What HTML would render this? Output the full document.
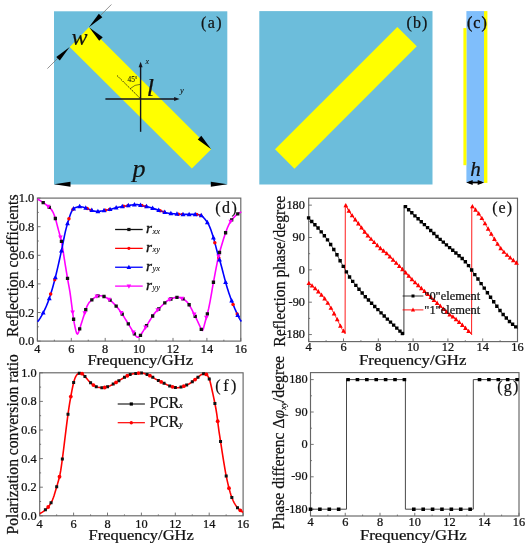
<!DOCTYPE html>
<html><head><meta charset="utf-8"><title>Figure</title>
<style>
html,body{margin:0;padding:0;background:#fff;}
svg{display:block;font-family:"Liberation Serif",serif;filter:blur(0.3px);}
text{stroke:#111;stroke-width:0.24px;}
.pl{stroke-width:0.22px;}
.sm{stroke-width:0.08px;}
.pc{stroke-width:0.4px;}
</style></head><body>
<svg width="529" height="550" viewBox="0 0 529 550">
<rect width="529" height="550" fill="#fff"/>
<rect x="54" y="11.3" width="173.3" height="173.2" fill="#6cbddb"/>
<polygon points="88.9,27.2 211.2,149.3 191.9,168.6 69.7,47" fill="#ffff00"/>
<path d="M47.4 68.6L58 58M100.5 15.4L111.4 4.5" stroke="#777" stroke-width="0.8" fill="none"/>
<polygon points="69.7,47 59.8,60.44 56.26,56.9" fill="#000"/>
<polygon points="88.9,27.2 98.8,13.76 102.34,17.3" fill="#000"/>
<polygon points="89.3,27.4 102.74,37.3 99.2,40.84" fill="#000"/>
<polygon points="211.2,149.3 197.76,139.4 201.3,135.86" fill="#000"/>
<polygon points="54,184.2 70.5,181.7 70.5,186.7" fill="#000"/>
<polygon points="227.3,184.2 210.8,186.7 210.8,181.7" fill="#000"/>
<line x1="105.4" y1="99" x2="176" y2="99" stroke="#15151f" stroke-width="1.4"/>
<line x1="140.6" y1="131.8" x2="140.6" y2="66" stroke="#15151f" stroke-width="1.4"/>
<polygon points="179.6,99 174.1,101 174.1,97" fill="#15151f"/>
<polygon points="140.6,61.8 142.6,67.3 138.6,67.3" fill="#15151f"/>
<line x1="117" y1="75.5" x2="140.5" y2="98.7" stroke="#1a1a1a" stroke-width="0.9" stroke-dasharray="1.7 0.9"/>
<path d="M130.35 88.55 A14.5 14.5 0 0 1 140.6 84.3" fill="none" stroke="#222" stroke-width="0.6"/>
<text x="127.6" y="82.4" font-size="7.4" fill="#111" class="sm">45</text>
<text x="134.9" y="80.6" font-size="5.5" fill="#111" class="sm">°</text>
<text x="145.6" y="63.5" font-size="8" font-style="italic" fill="#111" class="sm">x</text>
<text x="180" y="92.8" font-size="8.5" font-style="italic" fill="#111" class="sm">y</text>
<text x="146.8" y="96.2" font-size="26" font-style="italic" fill="#111" stroke="#111" stroke-width="0.35">l</text>
<text x="71.6" y="44.9" font-size="24" font-style="italic" fill="#111" stroke="#111" stroke-width="0.35">w</text>
<text x="132.6" y="177.3" font-size="26" font-style="italic" fill="#111" stroke="#111" stroke-width="0.35">p</text>
<text x="201" y="27.5" font-size="16" textLength="20.7" lengthAdjust="spacing" fill="#111" class="pl">(a)</text>
<rect x="259.3" y="11.1" width="173.2" height="173.4" fill="#6cbddb"/>
<polygon points="416.79,46.36 397.34,26.91 275.01,149.24 294.46,168.69" fill="#ffff00"/>
<text x="406.6" y="27.5" font-size="16" textLength="20.8" lengthAdjust="spacing" fill="#111" class="pl">(b)</text>
<rect x="466.4" y="11.1" width="17.6" height="171.2" fill="#7fbefb"/>
<rect x="484" y="11.1" width="3.4" height="171.8" fill="#ffff00"/>
<rect x="463.4" y="28.1" width="3" height="137.1" fill="#ffff00"/>
<text x="467" y="27.5" font-size="16" textLength="19.8" lengthAdjust="spacing" fill="#111" class="pc">(c)</text>
<text x="470.2" y="176.3" font-size="21" font-style="italic" fill="#111" stroke="#111" stroke-width="0.35">h</text>
<line x1="469" y1="182.5" x2="481.4" y2="182.5" stroke="#000" stroke-width="1.7"/>
<polygon points="466.2,182.5 472.7,179.9 472.7,185.1" fill="#000"/>
<polygon points="484.2,182.5 477.7,185.1 477.7,179.9" fill="#000"/>
<rect x="37.4" y="198.1" width="203.4" height="143" fill="none" stroke="#666" stroke-width="1.15"/>
<path d="M37.4 341.1v-3.2M71.3 341.1v-3.2M105.2 341.1v-3.2M139.1 341.1v-3.2M173 341.1v-3.2M206.9 341.1v-3.2M240.8 341.1v-3.2M54.35 341.1v-1.4M88.25 341.1v-1.4M122.15 341.1v-1.4M156.05 341.1v-1.4M189.95 341.1v-1.4M223.85 341.1v-1.4M37.4 341.1h3.2M37.4 312.5h3.2M37.4 283.9h3.2M37.4 255.3h3.2M37.4 226.7h3.2M37.4 198.1h3.2M37.4 326.8h1.4M37.4 298.2h1.4M37.4 269.6h1.4M37.4 241h1.4M37.4 212.4h1.4" stroke="#666" stroke-width="0.9" fill="none"/>
<path d="M37.6 199.1 L38.35 199.52 L39.1 199.97 L39.85 200.43 L40.6 200.91 L41.35 201.39 L42.1 201.88 L42.85 202.37 L43.6 202.86 L44.35 203.38 L45.1 203.93 L45.85 204.51 L46.6 205.11 L47.35 205.72 L48.1 206.35 L48.85 207 L49.6 207.66 L50.35 208.39 L51.1 209.25 L51.85 210.27 L52.6 211.5 L53.35 212.98 L54.1 214.75 L54.85 216.87 L55.6 219.35 L56.35 222.08 L57.1 224.9 L57.85 227.76 L58.6 230.59 L59.35 233.26 L60.1 235.95 L60.85 238.87 L61.6 242.21 L62.35 246.22 L63.1 250.85 L63.85 255.79 L64.6 260.7 L65.35 265.32 L66.1 269.87 L66.85 274.39 L67.6 278.9 L68.35 283.15 L69.1 287.11 L69.85 291.42 L70.6 296.56 L71.35 302.28 L72.1 308.22 L72.85 314.01 L73.6 319.26 L74.35 323.66 L75.1 327.31 L75.85 330.55 L76.6 333.15 L77.35 334.09 L78.1 333.26 L78.85 331.35 L79.6 329.04 L80.35 326.71 L81.1 324.36 L81.85 322 L82.6 319.63 L83.35 317.26 L84.1 314.9 L84.85 312.55 L85.6 310.23 L86.35 307.98 L87.1 306.09 L87.85 304.57 L88.6 303.34 L89.35 302.35 L90.1 301.51 L90.85 300.79 L91.6 300.09 L92.35 299.4 L93.1 298.75 L93.85 298.13 L94.6 297.57 L95.35 297.07 L96.1 296.64 L96.85 296.29 L97.6 296.04 L98.35 295.89 L99.1 295.81 L99.85 295.77 L100.6 295.76 L101.35 295.81 L102.1 295.92 L102.85 296.09 L103.6 296.32 L104.35 296.63 L105.1 297 L105.85 297.39 L106.6 297.82 L107.35 298.27 L108.1 298.75 L108.85 299.27 L109.6 299.83 L110.35 300.42 L111.1 301.06 L111.85 301.71 L112.6 302.39 L113.35 303.09 L114.1 303.83 L114.85 304.59 L115.6 305.4 L116.35 306.26 L117.1 307.17 L117.85 308.1 L118.6 309.05 L119.35 310.03 L120.1 311.05 L120.85 312.09 L121.6 313.18 L122.35 314.3 L123.1 315.47 L123.85 316.66 L124.6 317.85 L125.35 319.05 L126.1 320.25 L126.85 321.46 L127.6 322.67 L128.35 323.89 L129.1 325.1 L129.85 326.33 L130.6 327.57 L131.35 328.83 L132.1 330.09 L132.85 331.35 L133.6 332.61 L134.35 333.85 L135.1 335.03 L135.85 336.01 L136.6 336.74 L137.35 337.18 L138.1 337.29 L138.85 337.03 L139.6 336.44 L140.35 335.56 L141.1 334.44 L141.85 333.24 L142.6 332.04 L143.35 330.83 L144.1 329.63 L144.85 328.42 L145.6 327.22 L146.35 326.02 L147.1 324.82 L147.85 323.62 L148.6 322.42 L149.35 321.21 L150.1 320 L150.85 318.8 L151.6 317.62 L152.35 316.45 L153.1 315.3 L153.85 314.21 L154.6 313.24 L155.35 312.36 L156.1 311.55 L156.85 310.8 L157.6 310.07 L158.35 309.35 L159.1 308.61 L159.85 307.83 L160.6 307.05 L161.35 306.27 L162.1 305.5 L162.85 304.74 L163.6 304 L164.35 303.27 L165.1 302.57 L165.85 301.89 L166.6 301.3 L167.35 300.78 L168.1 300.32 L168.85 299.92 L169.6 299.55 L170.35 299.22 L171.1 298.9 L171.85 298.58 L172.6 298.28 L173.35 298.03 L174.1 297.81 L174.85 297.64 L175.6 297.49 L176.35 297.39 L177.1 297.31 L177.85 297.29 L178.6 297.34 L179.35 297.46 L180.1 297.65 L180.85 297.91 L181.6 298.21 L182.35 298.57 L183.1 298.97 L183.85 299.41 L184.6 299.89 L185.35 300.44 L186.1 301.07 L186.85 301.79 L187.6 302.63 L188.35 303.61 L189.1 304.73 L189.85 306.01 L190.6 307.34 L191.35 308.71 L192.1 310.12 L192.85 311.56 L193.6 313.03 L194.35 314.53 L195.1 316.07 L195.85 317.63 L196.6 319.2 L197.35 320.78 L198.1 322.37 L198.85 323.97 L199.6 325.59 L200.35 327.29 L201.1 328.98 L201.85 330.35 L202.6 330.56 L203.35 328.68 L204.1 325.85 L204.85 323.01 L205.6 320.25 L206.35 317.53 L207.1 314.77 L207.85 311.9 L208.6 308.77 L209.35 305.2 L210.1 301.28 L210.85 297.12 L211.6 292.81 L212.35 288.45 L213.1 284.16 L213.85 280.02 L214.6 276.07 L215.35 272.12 L216.1 268.19 L216.85 264.32 L217.6 260.58 L218.35 257.01 L219.1 253.98 L219.85 251.36 L220.6 248.81 L221.35 246.26 L222.1 243.73 L222.85 241.25 L223.6 238.82 L224.35 236.47 L225.1 234.2 L225.85 232.03 L226.6 229.96 L227.35 228.05 L228.1 226.29 L228.85 224.69 L229.6 223.23 L230.35 221.91 L231.1 220.73 L231.85 219.69 L232.6 218.76 L233.35 217.91 L234.1 217.09 L234.85 216.33 L235.6 215.61 L236.35 214.94 L237.1 214.34 L237.85 213.79 L238.6 213.3 L239.35 212.86 L240.1 212.47 L240.85 212.16 L241.4 212" fill="none" stroke="#f0f" stroke-width="1.6" stroke-linejoin="round"/>
<path d="M37.6 321.8 L38.35 320.84 L39.1 319.79 L39.85 318.66 L40.6 317.46 L41.35 316.19 L42.1 314.85 L42.85 313.47 L43.6 312.02 L44.35 310.51 L45.1 308.92 L45.85 307.25 L46.6 305.49 L47.35 303.63 L48.1 301.67 L48.85 299.6 L49.6 297.43 L50.35 295.15 L51.1 292.79 L51.85 290.32 L52.6 287.75 L53.35 285.08 L54.1 282.3 L54.85 279.4 L55.6 276.39 L56.35 273.3 L57.1 270.16 L57.85 266.94 L58.6 263.65 L59.35 260.28 L60.1 256.87 L60.85 253.43 L61.6 249.96 L62.35 246.37 L63.1 242.57 L63.85 238.74 L64.6 235.05 L65.35 231.67 L66.1 228.65 L66.85 225.9 L67.6 223.29 L68.35 220.73 L69.1 218.23 L69.85 215.92 L70.6 213.84 L71.35 212.05 L72.1 210.57 L72.85 209.43 L73.6 208.67 L74.35 208.19 L75.1 207.79 L75.85 207.46 L76.6 207.21 L77.35 207.01 L78.1 206.81 L78.85 206.65 L79.6 206.58 L80.35 206.64 L81.1 206.76 L81.85 206.91 L82.6 207.08 L83.35 207.28 L84.1 207.49 L84.85 207.72 L85.6 207.97 L86.35 208.22 L87.1 208.5 L87.85 208.8 L88.6 209.11 L89.35 209.42 L90.1 209.72 L90.85 210.01 L91.6 210.27 L92.35 210.5 L93.1 210.72 L93.85 210.92 L94.6 211.1 L95.35 211.24 L96.1 211.35 L96.85 211.41 L97.6 211.43 L98.35 211.4 L99.1 211.33 L99.85 211.25 L100.6 211.15 L101.35 211.05 L102.1 210.93 L102.85 210.81 L103.6 210.67 L104.35 210.53 L105.1 210.38 L105.85 210.24 L106.6 210.09 L107.35 209.94 L108.1 209.79 L108.85 209.63 L109.6 209.47 L110.35 209.3 L111.1 209.13 L111.85 208.92 L112.6 208.69 L113.35 208.45 L114.1 208.21 L114.85 207.98 L115.6 207.77 L116.35 207.59 L117.1 207.45 L117.85 207.32 L118.6 207.19 L119.35 207.07 L120.1 206.95 L120.85 206.83 L121.6 206.7 L122.35 206.58 L123.1 206.45 L123.85 206.32 L124.6 206.19 L125.35 206.06 L126.1 205.92 L126.85 205.79 L127.6 205.66 L128.35 205.53 L129.1 205.4 L129.85 205.28 L130.6 205.16 L131.35 205.06 L132.1 204.97 L132.85 204.88 L133.6 204.79 L134.35 204.72 L135.1 204.64 L135.85 204.59 L136.6 204.58 L137.35 204.61 L138.1 204.7 L138.85 204.86 L139.6 205.03 L140.35 205.21 L141.1 205.4 L141.85 205.58 L142.6 205.76 L143.35 205.93 L144.1 206.1 L144.85 206.26 L145.6 206.41 L146.35 206.56 L147.1 206.71 L147.85 206.86 L148.6 207.03 L149.35 207.21 L150.1 207.41 L150.85 207.62 L151.6 207.87 L152.35 208.12 L153.1 208.37 L153.85 208.62 L154.6 208.87 L155.35 209.12 L156.1 209.37 L156.85 209.62 L157.6 209.87 L158.35 210.12 L159.1 210.37 L159.85 210.62 L160.6 210.87 L161.35 211.12 L162.1 211.37 L162.85 211.62 L163.6 211.87 L164.35 212.12 L165.1 212.37 L165.85 212.61 L166.6 212.81 L167.35 212.97 L168.1 213.09 L168.85 213.19 L169.6 213.27 L170.35 213.35 L171.1 213.42 L171.85 213.51 L172.6 213.6 L173.35 213.69 L174.1 213.78 L174.85 213.86 L175.6 213.94 L176.35 214.02 L177.1 214.08 L177.85 214.14 L178.6 214.2 L179.35 214.25 L180.1 214.29 L180.85 214.33 L181.6 214.36 L182.35 214.39 L183.1 214.4 L183.85 214.4 L184.6 214.4 L185.35 214.4 L186.1 214.4 L186.85 214.4 L187.6 214.4 L188.35 214.4 L189.1 214.4 L189.85 214.4 L190.6 214.4 L191.35 214.4 L192.1 214.4 L192.85 214.4 L193.6 214.4 L194.35 214.4 L195.1 214.4 L195.85 214.41 L196.6 214.46 L197.35 214.54 L198.1 214.66 L198.85 214.78 L199.6 214.92 L200.35 215.15 L201.1 215.48 L201.85 215.93 L202.6 216.55 L203.35 217.33 L204.1 218.18 L204.85 219.06 L205.6 219.95 L206.35 220.92 L207.1 221.99 L207.85 223.17 L208.6 224.52 L209.35 226.08 L210.1 227.85 L210.85 229.81 L211.6 231.93 L212.35 234.21 L213.1 236.61 L213.85 239.14 L214.6 241.79 L215.35 244.64 L216.1 247.59 L216.85 250.53 L217.6 253.37 L218.35 256.01 L219.1 258.41 L219.85 260.77 L220.6 263.3 L221.35 266.01 L222.1 268.83 L222.85 271.71 L223.6 274.61 L224.35 277.5 L225.1 280.34 L225.85 283.07 L226.6 285.68 L227.35 288.18 L228.1 290.57 L228.85 292.88 L229.6 295.1 L230.35 297.24 L231.1 299.3 L231.85 301.28 L232.6 303.21 L233.35 305.08 L234.1 306.91 L234.85 308.69 L235.6 310.42 L236.35 312.11 L237.1 313.75 L237.85 315.35 L238.6 316.9 L239.35 318.34 L240.1 319.61 L240.85 320.75 L241.4 321.5" fill="none" stroke="#00f" stroke-width="1.6" stroke-linejoin="round"/>
<circle cx="50.68" cy="294.12" r="1.75" fill="#f00"/>
<circle cx="68.92" cy="218.82" r="1.75" fill="#f00"/>
<circle cx="87.16" cy="208.53" r="1.75" fill="#f00"/>
<circle cx="105.4" cy="210.33" r="1.75" fill="#f00"/>
<circle cx="123.64" cy="206.35" r="1.75" fill="#f00"/>
<circle cx="141.88" cy="205.59" r="1.75" fill="#f00"/>
<circle cx="160.12" cy="210.71" r="1.75" fill="#f00"/>
<circle cx="178.36" cy="214.18" r="1.75" fill="#f00"/>
<circle cx="196.6" cy="214.46" r="1.75" fill="#f00"/>
<circle cx="214.84" cy="242.69" r="1.75" fill="#f00"/>
<circle cx="233.08" cy="304.41" r="1.75" fill="#f00"/>
<circle cx="54.76" cy="279.76" r="1.65" fill="#f00"/>
<circle cx="73" cy="209.25" r="1.65" fill="#f00"/>
<circle cx="91.24" cy="210.15" r="1.65" fill="#f00"/>
<circle cx="109.48" cy="209.5" r="1.65" fill="#f00"/>
<circle cx="127.72" cy="205.64" r="1.65" fill="#f00"/>
<circle cx="145.96" cy="206.48" r="1.65" fill="#f00"/>
<circle cx="164.2" cy="212.07" r="1.65" fill="#f00"/>
<circle cx="182.44" cy="214.39" r="1.65" fill="#f00"/>
<circle cx="200.68" cy="215.28" r="1.65" fill="#f00"/>
<circle cx="218.92" cy="257.84" r="1.65" fill="#f00"/>
<circle cx="237.16" cy="313.88" r="1.65" fill="#f00"/>
<path d="M43.2 310.07L45.62 314.56L40.78 314.56zM49.28 295.64L51.7 300.13L46.86 300.13zM55.36 274.64L57.78 279.13L52.94 279.13zM61.44 247.98L63.86 252.47L59.02 252.47zM67.52 220.84L69.94 225.32L65.1 225.32zM73.6 205.94L76.02 210.43L71.18 210.43zM79.68 203.85L82.1 208.34L77.26 208.34zM85.76 205.29L88.18 209.78L83.34 209.78zM91.84 207.62L94.26 212.1L89.42 212.1zM97.92 208.69L100.34 213.18L95.5 213.18zM104 207.87L106.42 212.36L101.58 212.36zM110.08 206.64L112.5 211.12L107.66 211.12zM116.16 204.9L118.58 209.39L113.74 209.39zM122.24 203.87L124.66 208.36L119.82 208.36zM128.32 202.81L130.74 207.3L125.9 207.3zM134.4 201.98L136.82 206.47L131.98 206.47zM140.48 202.52L142.9 207.01L138.06 207.01zM146.56 203.87L148.98 208.36L144.14 208.36zM152.64 205.49L155.06 209.97L150.22 209.97zM158.72 207.51L161.14 212L156.3 212zM164.8 209.54L167.22 214.03L162.38 214.03zM170.88 210.67L173.3 215.16L168.46 215.16zM176.96 211.34L179.38 215.83L174.54 215.83zM183.04 211.67L185.46 216.16L180.62 216.16zM189.12 211.67L191.54 216.16L186.7 216.16zM195.2 211.67L197.62 216.16L192.78 216.16zM201.28 212.85L203.7 217.34L198.86 217.34zM207.36 219.66L209.78 224.14L204.94 224.14zM213.44 235.02L215.86 239.5L211.02 239.5zM219.52 256.99L221.94 261.48L217.1 261.48zM225.6 279.45L228.02 283.93L223.18 283.93zM231.68 298.11L234.1 302.6L229.26 302.6zM237.76 312.43L240.18 316.92L235.34 316.92z" fill="#00f"/>
<path d="M41.55 200.95h3.3v3.3h-3.3zM47.63 205.72h3.3v3.3h-3.3zM53.71 216.86h3.3v3.3h-3.3zM59.79 239.8h3.3v3.3h-3.3zM65.87 276.77h3.3v3.3h-3.3zM71.95 317.61h3.3v3.3h-3.3zM78.03 327.14h3.3v3.3h-3.3zM84.11 308.09h3.3v3.3h-3.3zM90.19 298.22h3.3v3.3h-3.3zM96.27 294.32h3.3v3.3h-3.3zM102.35 294.83h3.3v3.3h-3.3zM108.43 298.55h3.3v3.3h-3.3zM114.51 304.39h3.3v3.3h-3.3zM120.59 312.48h3.3v3.3h-3.3zM126.67 322.19h3.3v3.3h-3.3zM132.75 332.29h3.3v3.3h-3.3zM138.83 333.73h3.3v3.3h-3.3zM144.91 324.03h3.3v3.3h-3.3zM150.99 314.35h3.3v3.3h-3.3zM157.07 307.34h3.3v3.3h-3.3zM163.15 301.19h3.3v3.3h-3.3zM169.23 297.34h3.3v3.3h-3.3zM175.31 295.68h3.3v3.3h-3.3zM181.39 297.29h3.3v3.3h-3.3zM187.47 303.11h3.3v3.3h-3.3zM193.55 314.63h3.3v3.3h-3.3zM199.63 327.72h3.3v3.3h-3.3zM205.71 312.15h3.3v3.3h-3.3zM211.79 280.61h3.3v3.3h-3.3zM217.87 250.83h3.3v3.3h-3.3zM223.95 231.09h3.3v3.3h-3.3zM230.03 218.26h3.3v3.3h-3.3zM236.11 212.2h3.3v3.3h-3.3z" fill="#111"/>
<path d="M48.28 209.11L50.59 204.83L45.97 204.83zM60.44 239.84L62.75 235.56L58.13 235.56zM72.6 314.72L74.91 310.44L70.29 310.44zM84.76 315.43L87.07 311.15L82.45 311.15zM96.92 298.87L99.23 294.59L94.61 294.59zM109.08 302.04L111.39 297.76L106.77 297.76zM121.24 315.26L123.55 310.97L118.93 310.97zM133.4 334.88L135.71 330.6L131.09 330.6zM145.56 329.89L147.87 325.6L143.25 325.6zM157.72 312.56L160.03 308.28L155.41 308.28zM169.88 302.03L172.19 297.74L167.57 297.74zM182.04 301.02L184.35 296.74L179.73 296.74zM194.2 316.84L196.51 312.55L191.89 312.55zM206.36 320.1L208.67 315.82L204.05 315.82zM218.52 258.87L220.83 254.59L216.21 254.59zM230.68 223.98L232.99 219.7L228.37 219.7z" fill="#f0f"/>
<line x1="115.1" y1="229.5" x2="142.7" y2="229.5" stroke="#111" stroke-width="1.3"/>
<path d="M127.3 227.9h3.2v3.2h-3.2z" fill="#111"/>
<text x="146" y="233.3" font-size="15.2" font-style="italic" fill="#111" style="stroke-width:0.4px">r<tspan font-size="8.4" dy="0.2" dx="0.5" style="stroke-width:0.1px">xx</tspan></text>
<line x1="115.1" y1="248.37" x2="142.7" y2="248.37" stroke="#f00" stroke-width="1.3"/>
<circle cx="128.9" cy="248.37" r="1.6" fill="#f00"/>
<text x="146" y="252.17" font-size="15.2" font-style="italic" fill="#111" style="stroke-width:0.4px">r<tspan font-size="8.4" dy="0.2" dx="0.5" style="stroke-width:0.1px">xy</tspan></text>
<line x1="115.1" y1="267.24" x2="142.7" y2="267.24" stroke="#00f" stroke-width="1.3"/>
<path d="M128.9 264.64L131.21 268.92L126.59 268.92z" fill="#00f"/>
<text x="146" y="271.04" font-size="15.2" font-style="italic" fill="#111" style="stroke-width:0.4px">r<tspan font-size="8.4" dy="0.2" dx="0.5" style="stroke-width:0.1px">yx</tspan></text>
<line x1="115.1" y1="286.11" x2="142.7" y2="286.11" stroke="#f0f" stroke-width="1.3"/>
<path d="M128.9 288.71L131.21 284.43L126.59 284.43z" fill="#f0f"/>
<text x="146" y="289.91" font-size="15.2" font-style="italic" fill="#111" style="stroke-width:0.4px">r<tspan font-size="8.4" dy="0.2" dx="0.5" style="stroke-width:0.1px">yy</tspan></text>
<text x="215.3" y="213" font-size="16" textLength="21.5" lengthAdjust="spacing" fill="#111" class="pl">(d)</text>
<text x="18.8" y="345.1" font-size="11.7" textLength="15.4" lengthAdjust="spacingAndGlyphs" fill="#111" >0.0</text>
<text x="18.8" y="316.5" font-size="11.7" textLength="15.4" lengthAdjust="spacingAndGlyphs" fill="#111" >0.2</text>
<text x="18.8" y="287.9" font-size="11.7" textLength="15.4" lengthAdjust="spacingAndGlyphs" fill="#111" >0.4</text>
<text x="18.8" y="259.3" font-size="11.7" textLength="15.4" lengthAdjust="spacingAndGlyphs" fill="#111" >0.6</text>
<text x="18.8" y="230.7" font-size="11.7" textLength="15.4" lengthAdjust="spacingAndGlyphs" fill="#111" >0.8</text>
<text x="18.8" y="202.1" font-size="11.7" textLength="15.4" lengthAdjust="spacingAndGlyphs" fill="#111" >1.0</text>
<text x="34.32" y="352.6" font-size="11.7" textLength="6.15" lengthAdjust="spacingAndGlyphs" fill="#111" >4</text>
<text x="68.22" y="352.6" font-size="11.7" textLength="6.15" lengthAdjust="spacingAndGlyphs" fill="#111" >6</text>
<text x="102.12" y="352.6" font-size="11.7" textLength="6.15" lengthAdjust="spacingAndGlyphs" fill="#111" >8</text>
<text x="132.95" y="352.6" font-size="11.7" textLength="12.3" lengthAdjust="spacingAndGlyphs" fill="#111" >10</text>
<text x="166.85" y="352.6" font-size="11.7" textLength="12.3" lengthAdjust="spacingAndGlyphs" fill="#111" >12</text>
<text x="200.75" y="352.6" font-size="11.7" textLength="12.3" lengthAdjust="spacingAndGlyphs" fill="#111" >14</text>
<text x="234.65" y="352.6" font-size="11.7" textLength="12.3" lengthAdjust="spacingAndGlyphs" fill="#111" >16</text>
<text x="87.4" y="364.9" font-size="14.9" textLength="105.6" lengthAdjust="spacingAndGlyphs" fill="#111" >Frequency/GHz</text>
<text transform="translate(18.4 337) rotate(-90)" font-size="16.6" textLength="142.5" lengthAdjust="spacingAndGlyphs" fill="#111">Reflection coefficients</text>
<rect x="308.7" y="198.2" width="208.8" height="143.4" fill="none" stroke="#666" stroke-width="1.15"/>
<path d="M308.7 341.6v-3.2M343.5 341.6v-3.2M378.3 341.6v-3.2M413.1 341.6v-3.2M447.9 341.6v-3.2M482.7 341.6v-3.2M517.5 341.6v-3.2M326.1 341.6v-1.4M360.9 341.6v-1.4M395.7 341.6v-1.4M430.5 341.6v-1.4M465.3 341.6v-1.4M500.1 341.6v-1.4M308.7 334.55h3.2M308.7 302.2h3.2M308.7 269.85h3.2M308.7 237.5h3.2M308.7 205.15h3.2M308.7 318.38h1.4M308.7 286.03h1.4M308.7 253.68h1.4M308.7 221.33h1.4" stroke="#666" stroke-width="0.9" fill="none"/>
<path d="M308.5 283 L309.25 283.56 L310 284.14 L310.75 284.74 L311.5 285.36 L312.25 285.99 L313 286.63 L313.75 287.3 L314.5 287.97 L315.25 288.67 L316 289.39 L316.75 290.12 L317.5 290.87 L318.25 291.63 L319 292.41 L319.75 293.2 L320.5 293.99 L321.25 294.8 L322 295.63 L322.75 296.49 L323.5 297.37 L324.25 298.29 L325 299.23 L325.75 300.2 L326.5 301.21 L327.25 302.25 L328 303.34 L328.75 304.48 L329.5 305.65 L330.25 306.87 L331 308.13 L331.75 309.42 L332.5 310.74 L333.25 312.09 L334 313.47 L334.75 314.87 L335.5 316.28 L336.25 317.71 L337 319.14 L337.75 320.59 L338.5 322.11 L339.25 323.68 L340 325.27 L340.75 326.82 L341.5 328.29 L342.25 329.47 L343 330.44 L343.75 331.4 L344.5 332.58 L345.1 333.8 L345.3 204.9 L346.05 205.98 L346.8 207.19 L347.55 208.48 L348.3 209.79 L349.05 211.08 L349.8 212.33 L350.55 213.47 L351.3 214.5 L352.05 215.49 L352.8 216.48 L353.55 217.46 L354.3 218.45 L355.05 219.43 L355.8 220.41 L356.55 221.38 L357.3 222.36 L358.05 223.33 L358.8 224.31 L359.55 225.29 L360.3 226.27 L361.05 227.25 L361.8 228.22 L362.55 229.2 L363.3 230.17 L364.05 231.13 L364.8 232.09 L365.55 233.04 L366.3 233.95 L367.05 234.83 L367.8 235.67 L368.55 236.49 L369.3 237.29 L370.05 238.07 L370.8 238.85 L371.55 239.62 L372.3 240.4 L373.05 241.18 L373.8 241.95 L374.55 242.72 L375.3 243.48 L376.05 244.24 L376.8 244.98 L377.55 245.72 L378.3 246.44 L379.05 247.16 L379.8 247.85 L380.55 248.51 L381.3 249.13 L382.05 249.73 L382.8 250.32 L383.55 250.91 L384.3 251.5 L385.05 252.11 L385.8 252.74 L386.55 253.4 L387.3 254.1 L388.05 254.85 L388.8 255.61 L389.55 256.37 L390.3 257.13 L391.05 257.88 L391.8 258.64 L392.55 259.4 L393.3 260.16 L394.05 260.92 L394.8 261.68 L395.55 262.44 L396.3 263.2 L397.05 263.96 L397.8 264.72 L398.55 265.48 L399.3 266.24 L400.05 267 L400.8 267.76 L401.55 268.52 L402.3 269.29 L403.05 270.05 L403.8 270.81 L404.55 271.59 L405.3 272.37 L406.05 273.17 L406.8 273.97 L407.55 274.78 L408.3 275.59 L409.05 276.39 L409.8 277.2 L410.55 277.99 L411.3 278.78 L412.05 279.56 L412.8 280.33 L413.55 281.08 L414.3 281.81 L415.05 282.53 L415.8 283.24 L416.55 283.94 L417.3 284.65 L418.05 285.34 L418.8 286.04 L419.55 286.73 L420.3 287.42 L421.05 288.11 L421.8 288.8 L422.55 289.5 L423.3 290.19 L424.05 290.88 L424.8 291.58 L425.55 292.28 L426.3 292.98 L427.05 293.68 L427.8 294.39 L428.55 295.09 L429.3 295.8 L430.05 296.5 L430.8 297.2 L431.55 297.91 L432.3 298.61 L433.05 299.31 L433.8 300.02 L434.55 300.72 L435.3 301.42 L436.05 302.13 L436.8 302.83 L437.55 303.53 L438.3 304.24 L439.05 304.94 L439.8 305.65 L440.55 306.35 L441.3 307.05 L442.05 307.76 L442.8 308.46 L443.55 309.17 L444.3 309.87 L445.05 310.57 L445.8 311.28 L446.55 311.98 L447.3 312.69 L448.05 313.39 L448.8 314.09 L449.55 314.72 L450.3 315.25 L451.05 315.73 L451.8 316.18 L452.55 316.65 L453.3 317.18 L454.05 317.79 L454.8 318.42 L455.55 319.06 L456.3 319.71 L457.05 320.37 L457.8 321.03 L458.55 321.7 L459.3 322.38 L460.05 323.07 L460.8 323.76 L461.55 324.46 L462.3 325.17 L463.05 325.88 L463.8 326.59 L464.55 327.31 L465.3 328.04 L466.05 328.77 L466.8 329.51 L467.55 330.26 L468.3 331.01 L469.05 331.78 L469.8 332.55 L470.55 333.33 L471.3 334.13 L471.6 334.5" fill="none" stroke="#f00" stroke-width="0.9"/>
<path d="M345.3 204.9 L346.05 205.98 L346.8 207.19 L347.55 208.48 L348.3 209.79 L349.05 211.08 L349.8 212.33 L350.55 213.47 L351.3 214.5 L352.05 215.49 L352.8 216.48 L353.55 217.46 L354.3 218.45 L355.05 219.43 L355.8 220.41 L356.55 221.38 L357.3 222.36 L358.05 223.33 L358.8 224.31 L359.55 225.29 L360.3 226.27 L361.05 227.25 L361.8 228.22 L362.55 229.2 L363.3 230.17 L364.05 231.13 L364.8 232.09 L365.55 233.04 L366.3 233.95 L367.05 234.83 L367.8 235.67 L368.55 236.49 L369.3 237.29 L370.05 238.07 L370.8 238.85 L371.55 239.62 L372.3 240.4 L373.05 241.18 L373.8 241.95 L374.55 242.72 L375.3 243.48 L376.05 244.24 L376.8 244.98 L377.55 245.72 L378.3 246.44 L379.05 247.16 L379.8 247.85 L380.55 248.51 L381.3 249.13 L382.05 249.73 L382.8 250.32 L383.55 250.91 L384.3 251.5 L385.05 252.11 L385.8 252.74 L386.55 253.4 L387.3 254.1 L388.05 254.85 L388.8 255.61 L389.55 256.37 L390.3 257.13 L391.05 257.88 L391.8 258.64 L392.55 259.4 L393.3 260.16 L394.05 260.92 L394.8 261.68 L395.55 262.44 L396.3 263.2 L397.05 263.96 L397.8 264.72 L398.55 265.48 L399.3 266.24 L400.05 267 L400.8 267.76 L401.55 268.52 L402.3 269.29 L403.05 270.05 L403.8 270.81 L404.55 271.59 L405.3 272.37 L406.05 273.17 L406.8 273.97 L407.55 274.78 L408.3 275.59 L409.05 276.39 L409.8 277.2 L410.55 277.99 L411.3 278.78 L412.05 279.56 L412.8 280.33 L413.55 281.08 L414.3 281.81 L415.05 282.53 L415.8 283.24 L416.55 283.94 L417.3 284.65 L418.05 285.34 L418.8 286.04 L419.55 286.73 L420.3 287.42 L421.05 288.11 L421.8 288.8 L422.55 289.5 L423.3 290.19 L424.05 290.88 L424.8 291.58 L425.55 292.28 L426.3 292.98 L427.05 293.68 L427.8 294.39 L428.55 295.09 L429.3 295.8 L430.05 296.5 L430.8 297.2 L431.55 297.91 L432.3 298.61 L433.05 299.31 L433.8 300.02 L434.55 300.72 L435.3 301.42 L436.05 302.13 L436.8 302.83 L437.55 303.53 L438.3 304.24 L439.05 304.94 L439.8 305.65 L440.55 306.35 L441.3 307.05 L442.05 307.76 L442.8 308.46 L443.55 309.17 L444.3 309.87 L445.05 310.57 L445.8 311.28 L446.55 311.98 L447.3 312.69 L448.05 313.39 L448.8 314.09 L449.55 314.72 L450.3 315.25 L451.05 315.73 L451.8 316.18 L452.55 316.65 L453.3 317.18 L454.05 317.79 L454.8 318.42 L455.55 319.06 L456.3 319.71 L457.05 320.37 L457.8 321.03 L458.55 321.7 L459.3 322.38 L460.05 323.07 L460.8 323.76 L461.55 324.46 L462.3 325.17 L463.05 325.88 L463.8 326.59 L464.55 327.31 L465.3 328.04 L466.05 328.77 L466.8 329.51 L467.55 330.26 L468.3 331.01 L469.05 331.78 L469.8 332.55 L470.55 333.33 L471.3 334.13 L471.6 334.5 L471.8 206 L472.55 206.75 L473.3 207.53 L474.05 208.33 L474.8 209.14 L475.55 209.97 L476.3 210.82 L477.05 211.7 L477.8 212.61 L478.55 213.57 L479.3 214.58 L480.05 215.63 L480.8 216.73 L481.55 217.87 L482.3 219.06 L483.05 220.28 L483.8 221.54 L484.55 222.81 L485.3 224.09 L486.05 225.38 L486.8 226.66 L487.55 227.94 L488.3 229.2 L489.05 230.44 L489.8 231.68 L490.55 232.91 L491.3 234.14 L492.05 235.36 L492.8 236.58 L493.55 237.79 L494.3 239 L495.05 240.2 L495.8 241.38 L496.55 242.54 L497.3 243.67 L498.05 244.77 L498.8 245.85 L499.55 246.89 L500.3 247.9 L501.05 248.85 L501.8 249.75 L502.55 250.61 L503.3 251.42 L504.05 252.2 L504.8 252.94 L505.55 253.66 L506.3 254.36 L507.05 255.04 L507.8 255.72 L508.55 256.39 L509.3 257.05 L510.05 257.71 L510.8 258.37 L511.55 259.02 L512.3 259.66 L513.05 260.28 L513.8 260.89 L514.55 261.49 L515.3 262.06 L516.05 262.62 L516.8 263.04 L517.5 263.1" fill="none" stroke="#f00" stroke-width="0.9"/>
<path d="M308.5 217.7 L309.25 218.66 L310 219.6 L310.75 220.48 L311.5 221.31 L312.25 222.09 L313 222.87 L313.75 223.63 L314.5 224.4 L315.25 225.14 L316 225.84 L316.75 226.56 L317.5 227.33 L318.25 228.2 L319 229.11 L319.75 230.05 L320.5 230.98 L321.25 231.91 L322 232.83 L322.75 233.74 L323.5 234.66 L324.25 235.58 L325 236.52 L325.75 237.49 L326.5 238.48 L327.25 239.49 L328 240.54 L328.75 241.64 L329.5 242.76 L330.25 243.91 L331 245.08 L331.75 246.26 L332.5 247.44 L333.25 248.64 L334 249.84 L334.75 251.05 L335.5 252.28 L336.25 253.54 L337 254.86 L337.75 256.24 L338.5 257.68 L339.25 259.11 L340 260.5 L340.75 261.85 L341.5 263.21 L342.25 264.55 L343 265.9 L343.75 267.24 L344.5 268.58 L345.25 269.9 L346 271.22 L346.75 272.52 L347.5 273.75 L348.25 274.94 L349 276.1 L349.75 277.23 L350.5 278.33 L351.25 279.41 L352 280.44 L352.75 281.43 L353.5 282.4 L354.25 283.36 L355 284.31 L355.75 285.24 L356.5 286.16 L357.25 287.08 L358 288 L358.75 288.92 L359.5 289.83 L360.25 290.75 L361 291.66 L361.75 292.57 L362.5 293.48 L363.25 294.37 L364 295.24 L364.75 296.09 L365.5 296.92 L366.25 297.73 L367 298.53 L367.75 299.32 L368.5 300.1 L369.25 300.87 L370 301.65 L370.75 302.42 L371.5 303.2 L372.25 303.97 L373 304.74 L373.75 305.52 L374.5 306.29 L375.25 307.05 L376 307.78 L376.75 308.49 L377.5 309.2 L378.25 309.96 L379 310.75 L379.75 311.54 L380.5 312.31 L381.25 313.07 L382 313.84 L382.75 314.6 L383.5 315.35 L384.25 316.11 L385 316.85 L385.75 317.59 L386.5 318.32 L387.25 319.04 L388 319.76 L388.75 320.47 L389.5 321.17 L390.25 321.88 L391 322.58 L391.75 323.28 L392.5 323.99 L393.25 324.7 L394 325.41 L394.75 326.13 L395.5 326.85 L396.25 327.57 L397 328.3 L397.75 329.02 L398.5 329.75 L399.25 330.47 L400 331.2 L400.75 331.92 L401.5 332.64 L402.25 333.35 L403 334.06 L403.75 334.76 L403.9 334.9 L404.1 205.3 L404.85 205.99 L405.6 206.7 L406.35 207.42 L407.1 208.15 L407.85 208.89 L408.6 209.63 L409.35 210.38 L410.1 211.12 L410.85 211.87 L411.6 212.62 L412.35 213.36 L413.1 214.09 L413.85 214.82 L414.6 215.54 L415.35 216.25 L416.1 216.95 L416.85 217.66 L417.6 218.35 L418.35 219.05 L419.1 219.75 L419.85 220.45 L420.6 221.14 L421.35 221.84 L422.1 222.53 L422.85 223.23 L423.6 223.92 L424.35 224.62 L425.1 225.32 L425.85 226.01 L426.6 226.71 L427.35 227.41 L428.1 228.12 L428.85 228.82 L429.6 229.53 L430.35 230.24 L431.1 230.95 L431.85 231.65 L432.6 232.36 L433.35 233.07 L434.1 233.78 L434.85 234.48 L435.6 235.18 L436.35 235.88 L437.1 236.58 L437.85 237.27 L438.6 237.96 L439.35 238.64 L440.1 239.31 L440.85 239.98 L441.6 240.65 L442.35 241.31 L443.1 241.97 L443.85 242.62 L444.6 243.27 L445.35 243.92 L446.1 244.57 L446.85 245.22 L447.6 245.86 L448.35 246.51 L449.1 247.15 L449.85 247.8 L450.6 248.45 L451.35 249.09 L452.1 249.74 L452.85 250.38 L453.6 251.03 L454.35 251.67 L455.1 252.32 L455.85 252.96 L456.6 253.61 L457.35 254.26 L458.1 254.92 L458.85 255.57 L459.6 256.23 L460.35 256.89 L461.1 257.55 L461.85 258.22 L462.6 258.89 L463.35 259.6 L464.1 260.35 L464.85 261.16 L465.6 262.01 L466.35 262.89 L467.1 263.82 L467.85 264.78 L468.6 265.76 L469.35 266.78 L470.1 267.82 L470.85 268.87 L471.6 269.94 L472.35 271.03 L473.1 272.13 L473.85 273.22 L474.6 274.3 L475.35 275.37 L476.1 276.44 L476.85 277.5 L477.6 278.57 L478.35 279.64 L479.1 280.7 L479.85 281.78 L480.6 282.86 L481.35 283.94 L482.1 285.03 L482.85 286.12 L483.6 287.21 L484.35 288.3 L485.1 289.39 L485.85 290.48 L486.6 291.57 L487.35 292.65 L488.1 293.73 L488.85 294.81 L489.6 295.89 L490.35 296.97 L491.1 298.05 L491.85 299.12 L492.6 300.2 L493.35 301.27 L494.1 302.34 L494.85 303.4 L495.6 304.46 L496.35 305.5 L497.1 306.54 L497.85 307.58 L498.6 308.61 L499.35 309.63 L500.1 310.64 L500.85 311.62 L501.6 312.56 L502.35 313.49 L503.1 314.39 L503.85 315.27 L504.6 316.14 L505.35 316.99 L506.1 317.84 L506.85 318.67 L507.6 319.5 L508.35 320.31 L509.1 321.1 L509.85 321.85 L510.6 322.58 L511.35 323.26 L512.1 323.9 L512.85 324.51 L513.6 325.12 L514.35 325.73 L515.1 326.34 L515.85 326.95 L516.6 327.56 L517.35 328.18 L517.5 328.3" fill="none" stroke="#222" stroke-width="0.9"/>
<path d="M308.9 280.63L311.26 285.02L306.53 285.02zM312.05 283.15L314.41 287.54L309.68 287.54zM315.2 285.96L317.56 290.34L312.83 290.34zM318.35 289.07L320.71 293.46L315.98 293.46zM321.5 292.41L323.86 296.8L319.13 296.8zM324.65 296.12L327.01 300.5L322.28 300.5zM327.8 300.38L330.16 304.77L325.43 304.77zM330.95 305.38L333.31 309.76L328.58 309.76zM334.1 310.99L336.46 315.38L331.73 315.38zM337.25 316.96L339.61 321.35L334.88 321.35zM340.4 323.44L342.76 327.82L338.03 327.82zM343.55 328.47L345.91 332.85L341.18 332.85z" fill="#f00"/>
<path d="M345.8 202.93L348.17 207.32L343.44 207.32zM348.95 208.25L351.31 212.63L346.58 212.63zM352.1 212.89L354.46 217.28L349.73 217.28zM355.25 217.02L357.61 221.41L352.88 221.41zM358.4 221.12L360.76 225.51L356.03 225.51zM361.55 225.23L363.91 229.62L359.18 229.62zM364.7 229.3L367.06 233.68L362.33 233.68zM367.85 233.06L370.21 237.45L365.48 237.45zM371 236.39L373.36 240.77L368.63 240.77zM374.15 239.65L376.51 244.03L371.78 244.03zM377.3 242.81L379.66 247.19L374.93 247.19zM380.45 245.75L382.81 250.14L378.08 250.14zM383.6 248.28L385.96 252.67L381.23 252.67zM386.75 250.92L389.11 255.3L384.38 255.3zM389.9 254.06L392.26 258.44L387.53 258.44zM393.05 257.24L395.41 261.63L390.68 261.63zM396.2 260.43L398.56 264.82L393.83 264.82zM399.35 263.63L401.71 268.01L396.98 268.01zM402.5 266.82L404.86 271.21L400.13 271.21zM405.65 270.08L408.01 274.47L403.28 274.47zM408.8 273.46L411.16 277.84L406.43 277.84zM411.95 276.79L414.31 281.18L409.58 281.18zM415.1 279.91L417.46 284.3L412.73 284.3zM418.25 282.86L420.61 287.25L415.88 287.25zM421.4 285.77L423.76 290.16L419.03 290.16zM424.55 288.68L426.91 293.07L422.18 293.07zM427.7 291.63L430.06 296.01L425.33 296.01zM430.85 294.58L433.21 298.97L428.48 298.97zM434 297.54L436.36 301.92L431.63 301.92zM437.15 300.49L439.51 304.88L434.78 304.88zM440.3 303.45L442.66 307.84L437.93 307.84zM443.45 306.41L445.81 310.79L441.08 310.79zM446.6 309.36L448.96 313.75L444.23 313.75zM449.75 312.2L452.11 316.59L447.38 316.59zM452.9 314.23L455.26 318.61L450.53 318.61zM456.05 316.83L458.41 321.21L453.68 321.21zM459.2 319.62L461.56 324.01L456.83 324.01zM462.35 322.55L464.71 326.93L459.98 326.93zM465.5 325.57L467.86 329.95L463.13 329.95zM468.65 328.7L471.01 333.09L466.28 333.09z" fill="#f00"/>
<path d="M472.4 203.93L474.76 208.32L470.03 208.32zM475.55 207.3L477.91 211.69L473.18 211.69zM478.7 211.1L481.06 215.49L476.33 215.49zM481.85 215.68L484.21 220.06L479.48 220.06zM485 220.91L487.36 225.3L482.63 225.3zM488.15 226.29L490.51 230.67L485.78 230.67zM491.3 231.47L493.66 235.86L488.93 235.86zM494.45 236.58L496.81 240.96L492.08 240.96zM497.6 241.45L499.96 245.83L495.23 245.83zM500.75 245.81L503.11 250.2L498.38 250.2zM503.9 249.38L506.26 253.77L501.53 253.77zM507.05 252.38L509.41 256.76L504.68 256.76zM510.2 255.18L512.56 259.56L507.83 259.56zM513.35 257.86L515.71 262.25L510.98 262.25zM516.5 260.26L518.86 264.64L514.13 264.64z" fill="#f00"/>
<path d="M306.9 216.13h3.4v3.4h-3.4zM310.05 219.87h3.4v3.4h-3.4zM313.2 223.1h3.4v3.4h-3.4zM316.35 226.26h3.4v3.4h-3.4zM319.5 230.15h3.4v3.4h-3.4zM322.65 234.01h3.4v3.4h-3.4zM325.8 238.14h3.4v3.4h-3.4zM328.95 242.83h3.4v3.4h-3.4zM332.1 247.82h3.4v3.4h-3.4zM335.25 253.07h3.4v3.4h-3.4zM338.4 258.98h3.4v3.4h-3.4zM341.55 264.65h3.4v3.4h-3.4zM344.7 270.22h3.4v3.4h-3.4zM347.85 275.23h3.4v3.4h-3.4zM351 279.66h3.4v3.4h-3.4zM354.15 283.66h3.4v3.4h-3.4zM357.3 287.52h3.4v3.4h-3.4zM360.45 291.36h3.4v3.4h-3.4zM363.6 295h3.4v3.4h-3.4zM366.75 298.35h3.4v3.4h-3.4zM369.9 301.6h3.4v3.4h-3.4zM373.05 304.85h3.4v3.4h-3.4zM376.2 307.9h3.4v3.4h-3.4zM379.35 311.17h3.4v3.4h-3.4zM382.5 314.36h3.4v3.4h-3.4zM385.65 317.44h3.4v3.4h-3.4zM388.8 320.41h3.4v3.4h-3.4zM391.95 323.38h3.4v3.4h-3.4zM395.1 326.4h3.4v3.4h-3.4zM398.25 329.45h3.4v3.4h-3.4z" fill="#000"/>
<path d="M400.7 331.8h3.4v3.4h-3.4z" fill="#000"/>
<path d="M403.8 204.9h3.4v3.4h-3.4zM406.95 207.98h3.4v3.4h-3.4zM410.1 211.11h3.4v3.4h-3.4zM413.25 214.18h3.4v3.4h-3.4zM416.4 217.12h3.4v3.4h-3.4zM419.55 220.04h3.4v3.4h-3.4zM422.7 222.97h3.4v3.4h-3.4zM425.85 225.9h3.4v3.4h-3.4zM429 228.87h3.4v3.4h-3.4zM432.15 231.84h3.4v3.4h-3.4zM435.3 234.79h3.4v3.4h-3.4zM438.45 237.66h3.4v3.4h-3.4zM441.6 240.44h3.4v3.4h-3.4zM444.75 243.17h3.4v3.4h-3.4zM447.9 245.89h3.4v3.4h-3.4zM451.05 248.6h3.4v3.4h-3.4zM454.2 251.31h3.4v3.4h-3.4zM457.35 254.05h3.4v3.4h-3.4zM460.5 256.83h3.4v3.4h-3.4zM463.65 260.02h3.4v3.4h-3.4zM466.8 263.93h3.4v3.4h-3.4zM469.95 268.32h3.4v3.4h-3.4zM473.1 272.89h3.4v3.4h-3.4zM476.25 277.37h3.4v3.4h-3.4zM479.4 281.88h3.4v3.4h-3.4zM482.55 286.45h3.4v3.4h-3.4zM485.7 291.02h3.4v3.4h-3.4zM488.85 295.56h3.4v3.4h-3.4zM492 300.07h3.4v3.4h-3.4zM495.15 304.5h3.4v3.4h-3.4zM498.3 308.81h3.4v3.4h-3.4zM501.45 312.75h3.4v3.4h-3.4zM504.6 316.36h3.4v3.4h-3.4zM507.75 319.75h3.4v3.4h-3.4zM510.9 322.61h3.4v3.4h-3.4zM514.05 325.17h3.4v3.4h-3.4z" fill="#000"/>
<line x1="402.6" y1="296" x2="423.4" y2="296" stroke="#222" stroke-width="0.9"/>
<path d="M411.5 294.5h3v3h-3z" fill="#000"/>
<line x1="402.6" y1="309.9" x2="423.4" y2="309.9" stroke="#f00" stroke-width="0.9"/>
<path d="M413 307.48L415.14 311.46L410.86 311.46z" fill="#f00"/>
<text x="424.3" y="299.6" font-size="11.6" textLength="55.8" lengthAdjust="spacingAndGlyphs" fill="#111" >"0"element</text>
<text x="424.3" y="313.6" font-size="11.6" textLength="55.8" lengthAdjust="spacingAndGlyphs" fill="#111" >"1"element</text>
<text x="492.2" y="212.8" font-size="16" textLength="19.8" lengthAdjust="spacing" fill="#111" class="pl">(e)</text>
<text x="282.45" y="338.25" font-size="11.7" textLength="22.45" lengthAdjust="spacingAndGlyphs" fill="#111" >-180</text>
<text x="288.6" y="305.9" font-size="11.7" textLength="16.3" lengthAdjust="spacingAndGlyphs" fill="#111" >-90</text>
<text x="298.75" y="273.55" font-size="11.7" textLength="6.15" lengthAdjust="spacingAndGlyphs" fill="#111" >0</text>
<text x="292.6" y="241.2" font-size="11.7" textLength="12.3" lengthAdjust="spacingAndGlyphs" fill="#111" >90</text>
<text x="286.45" y="208.85" font-size="11.7" textLength="18.45" lengthAdjust="spacingAndGlyphs" fill="#111" >180</text>
<text x="305.62" y="351" font-size="11.7" textLength="6.15" lengthAdjust="spacingAndGlyphs" fill="#111" >4</text>
<text x="340.43" y="351" font-size="11.7" textLength="6.15" lengthAdjust="spacingAndGlyphs" fill="#111" >6</text>
<text x="375.23" y="351" font-size="11.7" textLength="6.15" lengthAdjust="spacingAndGlyphs" fill="#111" >8</text>
<text x="406.95" y="351" font-size="11.7" textLength="12.3" lengthAdjust="spacingAndGlyphs" fill="#111" >10</text>
<text x="441.75" y="351" font-size="11.7" textLength="12.3" lengthAdjust="spacingAndGlyphs" fill="#111" >12</text>
<text x="476.55" y="351" font-size="11.7" textLength="12.3" lengthAdjust="spacingAndGlyphs" fill="#111" >14</text>
<text x="511.35" y="351" font-size="11.7" textLength="12.3" lengthAdjust="spacingAndGlyphs" fill="#111" >16</text>
<text x="359" y="365.4" font-size="14.9" textLength="107.4" lengthAdjust="spacingAndGlyphs" fill="#111" >Frequency/GHz</text>
<text transform="translate(284.7 346.8) rotate(-90)" font-size="16.6" textLength="151" lengthAdjust="spacingAndGlyphs" fill="#111">Reflection phase/degree</text>
<rect x="39.7" y="372.8" width="203.4" height="143" fill="none" stroke="#666" stroke-width="1.15"/>
<path d="M39.7 515.8v-3.2M73.6 515.8v-3.2M107.5 515.8v-3.2M141.4 515.8v-3.2M175.3 515.8v-3.2M209.2 515.8v-3.2M243.1 515.8v-3.2M56.65 515.8v-1.4M90.55 515.8v-1.4M124.45 515.8v-1.4M158.35 515.8v-1.4M192.25 515.8v-1.4M226.15 515.8v-1.4M39.7 515.8h3.2M39.7 487.2h3.2M39.7 458.6h3.2M39.7 430h3.2M39.7 401.4h3.2M39.7 372.8h3.2M39.7 501.5h1.4M39.7 472.9h1.4M39.7 444.3h1.4M39.7 415.7h1.4M39.7 387.1h1.4" stroke="#666" stroke-width="0.9" fill="none"/>
<path d="M39.7 513.5 L40.45 513.2 L41.2 512.83 L41.95 512.38 L42.7 511.88 L43.45 511.34 L44.2 510.76 L44.95 510.17 L45.7 509.55 L46.45 508.88 L47.2 508.12 L47.95 507.29 L48.7 506.37 L49.45 505.35 L50.2 504.22 L50.95 502.99 L51.7 501.63 L52.45 499.98 L53.2 498.06 L53.95 495.9 L54.7 493.56 L55.45 491.09 L56.2 488.54 L56.95 485.95 L57.7 483.38 L58.45 480.8 L59.2 477.99 L59.95 474.69 L60.7 470.64 L61.45 465.72 L62.2 460.26 L62.95 454.45 L63.7 448.5 L64.45 442.42 L65.2 436.24 L65.95 430.08 L66.7 424.06 L67.45 418.3 L68.2 412.81 L68.95 407.66 L69.7 402.89 L70.45 398.53 L71.2 394.44 L71.95 390.47 L72.7 386.73 L73.45 383.31 L74.2 380.46 L74.95 378.22 L75.7 376.56 L76.45 375.35 L77.2 374.44 L77.95 373.82 L78.7 373.47 L79.45 373.21 L80.2 373.02 L80.95 373.03 L81.7 373.35 L82.45 373.98 L83.2 374.68 L83.95 375.43 L84.7 376.22 L85.45 377.06 L86.2 377.94 L86.95 378.84 L87.7 379.73 L88.45 380.58 L89.2 381.38 L89.95 382.13 L90.7 382.85 L91.45 383.52 L92.2 384.15 L92.95 384.73 L93.7 385.27 L94.45 385.75 L95.2 386.16 L95.95 386.52 L96.7 386.81 L97.45 387.06 L98.2 387.26 L98.95 387.41 L99.7 387.53 L100.45 387.6 L101.2 387.66 L101.95 387.69 L102.7 387.69 L103.45 387.66 L104.2 387.59 L104.95 387.47 L105.7 387.31 L106.45 387.08 L107.2 386.83 L107.95 386.57 L108.7 386.3 L109.45 386 L110.2 385.68 L110.95 385.34 L111.7 384.96 L112.45 384.55 L113.2 384.1 L113.95 383.65 L114.7 383.2 L115.45 382.75 L116.2 382.3 L116.95 381.85 L117.7 381.4 L118.45 380.95 L119.2 380.5 L119.95 380.05 L120.7 379.59 L121.45 379.14 L122.2 378.69 L122.95 378.24 L123.7 377.78 L124.45 377.33 L125.2 376.88 L125.95 376.45 L126.7 376.05 L127.45 375.67 L128.2 375.32 L128.95 375.01 L129.7 374.72 L130.45 374.47 L131.2 374.24 L131.95 374.05 L132.7 373.89 L133.45 373.74 L134.2 373.62 L134.95 373.51 L135.7 373.41 L136.45 373.31 L137.2 373.21 L137.95 373.11 L138.7 373.02 L139.45 372.94 L140.2 372.88 L140.95 372.87 L141.7 372.92 L142.45 373.04 L143.2 373.22 L143.95 373.45 L144.7 373.71 L145.45 373.98 L146.2 374.25 L146.95 374.52 L147.7 374.8 L148.45 375.09 L149.2 375.4 L149.95 375.74 L150.7 376.1 L151.45 376.5 L152.2 376.94 L152.95 377.41 L153.7 377.89 L154.45 378.37 L155.2 378.83 L155.95 379.26 L156.7 379.65 L157.45 380.03 L158.2 380.41 L158.95 380.78 L159.7 381.16 L160.45 381.53 L161.2 381.9 L161.95 382.27 L162.7 382.65 L163.45 383.02 L164.2 383.38 L164.95 383.75 L165.7 384.12 L166.45 384.49 L167.2 384.85 L167.95 385.2 L168.7 385.53 L169.45 385.83 L170.2 386.1 L170.95 386.36 L171.7 386.61 L172.45 386.84 L173.2 387.07 L173.95 387.28 L174.7 387.45 L175.45 387.58 L176.2 387.67 L176.95 387.7 L177.7 387.69 L178.45 387.63 L179.2 387.52 L179.95 387.37 L180.7 387.2 L181.45 386.99 L182.2 386.75 L182.95 386.5 L183.7 386.22 L184.45 385.92 L185.2 385.62 L185.95 385.31 L186.7 385.01 L187.45 384.69 L188.2 384.34 L188.95 383.96 L189.7 383.53 L190.45 383.04 L191.2 382.5 L191.95 381.95 L192.7 381.38 L193.45 380.81 L194.2 380.23 L194.95 379.64 L195.7 379.06 L196.45 378.47 L197.2 377.86 L197.95 377.26 L198.7 376.65 L199.45 376.04 L200.2 375.45 L200.95 374.93 L201.7 374.5 L202.45 374.14 L203.2 373.83 L203.95 373.55 L204.7 373.44 L205.45 373.71 L206.2 374.25 L206.95 374.95 L207.7 375.83 L208.45 377.06 L209.2 378.76 L209.95 381.06 L210.7 383.98 L211.45 387.27 L212.2 390.73 L212.95 394.2 L213.7 397.68 L214.45 401.24 L215.2 404.99 L215.95 409.02 L216.7 413.51 L217.45 419.18 L218.2 425.37 L218.95 431.1 L219.7 435.99 L220.45 440.85 L221.2 445.69 L221.95 450.52 L222.7 455.34 L223.45 460.05 L224.2 464.6 L224.95 469.01 L225.7 473.28 L226.45 477.16 L227.2 480.69 L227.95 483.94 L228.7 487 L229.45 489.87 L230.2 492.52 L230.95 494.9 L231.7 497.02 L232.45 498.97 L233.2 500.76 L233.95 502.33 L234.7 503.66 L235.45 504.85 L236.2 505.97 L236.95 506.98 L237.7 507.88 L238.45 508.64 L239.2 509.35 L239.95 510.03 L240.7 510.67 L241.45 511.24 L242.2 511.76 L242.95 512.22 L243.1 512.3" fill="none" stroke="#f00" stroke-width="1.6" stroke-linejoin="round"/>
<path d="M43.9 508.3h3v3h-3zM49.55 501.32h3v3h-3zM55.2 485.31h3v3h-3zM60.85 457.62h3v3h-3zM66.5 412.75h3v3h-3zM72.15 380.98h3v3h-3zM77.8 371.76h3v3h-3zM83.45 374.99h3v3h-3zM89.1 381.26h3v3h-3zM94.75 385.14h3v3h-3zM100.4 386.19h3v3h-3zM106.05 385.21h3v3h-3zM111.7 382.6h3v3h-3zM117.35 379.21h3v3h-3zM123 375.8h3v3h-3zM128.65 373.06h3v3h-3zM134.3 371.89h3v3h-3zM139.95 371.4h3v3h-3zM145.6 373.08h3v3h-3zM151.25 375.78h3v3h-3zM156.9 379.01h3v3h-3zM162.55 381.81h3v3h-3zM168.2 384.42h3v3h-3zM173.85 386.07h3v3h-3zM179.5 385.62h3v3h-3zM185.15 383.53h3v3h-3zM190.8 380.18h3v3h-3zM196.45 375.76h3v3h-3zM202.1 372.18h3v3h-3zM207.75 377.39h3v3h-3zM213.4 401.97h3v3h-3zM219.05 440h3v3h-3zM224.7 474.41h3v3h-3zM230.35 495.92h3v3h-3zM236 506.15h3v3h-3z" fill="#111"/>
<circle cx="48.2" cy="506.99" r="1.9" fill="#f00"/>
<circle cx="59.5" cy="476.74" r="1.9" fill="#f00"/>
<circle cx="70.8" cy="396.6" r="1.9" fill="#f00"/>
<circle cx="82.1" cy="373.67" r="1.9" fill="#f00"/>
<circle cx="93.4" cy="385.06" r="1.9" fill="#f00"/>
<circle cx="104.7" cy="387.52" r="1.9" fill="#f00"/>
<circle cx="116" cy="382.42" r="1.9" fill="#f00"/>
<circle cx="127.3" cy="375.74" r="1.9" fill="#f00"/>
<circle cx="138.6" cy="373.03" r="1.9" fill="#f00"/>
<circle cx="149.9" cy="375.71" r="1.9" fill="#f00"/>
<circle cx="161.2" cy="381.9" r="1.9" fill="#f00"/>
<circle cx="172.5" cy="386.86" r="1.9" fill="#f00"/>
<circle cx="183.8" cy="386.18" r="1.9" fill="#f00"/>
<circle cx="195.1" cy="379.53" r="1.9" fill="#f00"/>
<circle cx="206.4" cy="374.43" r="1.9" fill="#f00"/>
<circle cx="217.7" cy="421.24" r="1.9" fill="#f00"/>
<circle cx="229" cy="488.17" r="1.9" fill="#f00"/>
<circle cx="240.3" cy="510.33" r="1.9" fill="#f00"/>
<line x1="117.7" y1="404" x2="144.9" y2="404" stroke="#222" stroke-width="1.2"/>
<path d="M129.7 402.4h3.2v3.2h-3.2z" fill="#000"/>
<line x1="117.7" y1="422.7" x2="144.9" y2="422.7" stroke="#f00" stroke-width="1.2"/>
<circle cx="131.3" cy="422.7" r="1.7" fill="#f00"/>
<text x="149.5" y="407.6" font-size="15.7" fill="#111">PCR<tspan font-size="7.5" font-style="italic" dy="0.2">x</tspan></text>
<text x="149.5" y="426.6" font-size="15.7" fill="#111">PCR<tspan font-size="7.5" font-style="italic" dy="0.2">y</tspan></text>
<text x="215.3" y="390.8" font-size="16" textLength="21" lengthAdjust="spacing" fill="#111" class="pl">(f)</text>
<text x="21.2" y="519.7" font-size="11.7" textLength="15.4" lengthAdjust="spacingAndGlyphs" fill="#111" >0.0</text>
<text x="21.2" y="491.1" font-size="11.7" textLength="15.4" lengthAdjust="spacingAndGlyphs" fill="#111" >0.2</text>
<text x="21.2" y="462.5" font-size="11.7" textLength="15.4" lengthAdjust="spacingAndGlyphs" fill="#111" >0.4</text>
<text x="21.2" y="433.9" font-size="11.7" textLength="15.4" lengthAdjust="spacingAndGlyphs" fill="#111" >0.6</text>
<text x="21.2" y="405.3" font-size="11.7" textLength="15.4" lengthAdjust="spacingAndGlyphs" fill="#111" >0.8</text>
<text x="21.2" y="376.7" font-size="11.7" textLength="15.4" lengthAdjust="spacingAndGlyphs" fill="#111" >1.0</text>
<text x="36.62" y="528.2" font-size="11.7" textLength="6.15" lengthAdjust="spacingAndGlyphs" fill="#111" >4</text>
<text x="70.52" y="528.2" font-size="11.7" textLength="6.15" lengthAdjust="spacingAndGlyphs" fill="#111" >6</text>
<text x="104.42" y="528.2" font-size="11.7" textLength="6.15" lengthAdjust="spacingAndGlyphs" fill="#111" >8</text>
<text x="135.25" y="528.2" font-size="11.7" textLength="12.3" lengthAdjust="spacingAndGlyphs" fill="#111" >10</text>
<text x="169.15" y="528.2" font-size="11.7" textLength="12.3" lengthAdjust="spacingAndGlyphs" fill="#111" >12</text>
<text x="203.05" y="528.2" font-size="11.7" textLength="12.3" lengthAdjust="spacingAndGlyphs" fill="#111" >14</text>
<text x="236.95" y="528.2" font-size="11.7" textLength="12.3" lengthAdjust="spacingAndGlyphs" fill="#111" >16</text>
<text x="88.6" y="539.8" font-size="14.9" textLength="105.2" lengthAdjust="spacingAndGlyphs" fill="#111" >Frequency/GHz</text>
<text transform="translate(18.4 534.4) rotate(-90)" font-size="16.6" textLength="180.2" lengthAdjust="spacingAndGlyphs" fill="#111">Polarization conversion ratio</text>
<rect x="310.5" y="372.6" width="208.5" height="143.4" fill="none" stroke="#666" stroke-width="1.15"/>
<path d="M310.5 516v-3.2M345.25 516v-3.2M380 516v-3.2M414.75 516v-3.2M449.5 516v-3.2M484.25 516v-3.2M519 516v-3.2M327.88 516v-1.4M362.62 516v-1.4M397.38 516v-1.4M432.12 516v-1.4M466.88 516v-1.4M501.62 516v-1.4M310.5 509.2h3.2M310.5 476.8h3.2M310.5 444.4h3.2M310.5 412h3.2M310.5 379.6h3.2M310.5 493h1.4M310.5 460.6h1.4M310.5 428.2h1.4M310.5 395.8h1.4" stroke="#666" stroke-width="0.9" fill="none"/>
<path d="M310.5 509.2H346.5V379.6H405.4V509.2H473.3V379.6H519" fill="none" stroke="#333" stroke-width="0.9"/>
<path d="M308.7 507.5h3.6v3.4h-3.6zM318.09 507.5h3.6v3.4h-3.6zM327.48 507.5h3.6v3.4h-3.6zM336.87 507.5h3.6v3.4h-3.6zM346.26 377.9h3.6v3.4h-3.6zM355.65 377.9h3.6v3.4h-3.6zM365.04 377.9h3.6v3.4h-3.6zM374.43 377.9h3.6v3.4h-3.6zM383.82 377.9h3.6v3.4h-3.6zM393.21 377.9h3.6v3.4h-3.6zM402.6 377.9h3.6v3.4h-3.6zM411.99 507.5h3.6v3.4h-3.6zM421.38 507.5h3.6v3.4h-3.6zM430.77 507.5h3.6v3.4h-3.6zM440.16 507.5h3.6v3.4h-3.6zM449.55 507.5h3.6v3.4h-3.6zM458.94 507.5h3.6v3.4h-3.6zM468.33 507.5h3.6v3.4h-3.6zM477.72 377.9h3.6v3.4h-3.6zM487.11 377.9h3.6v3.4h-3.6zM496.5 377.9h3.6v3.4h-3.6zM505.89 377.9h3.6v3.4h-3.6zM515.28 377.9h3.6v3.4h-3.6z" fill="#000"/>
<text x="497.3" y="392" font-size="16" textLength="21" lengthAdjust="spacing" fill="#111" class="pl">(g)</text>
<text x="285.15" y="512.8" font-size="11.7" textLength="22.45" lengthAdjust="spacingAndGlyphs" fill="#111" >-180</text>
<text x="291.3" y="480.4" font-size="11.7" textLength="16.3" lengthAdjust="spacingAndGlyphs" fill="#111" >-90</text>
<text x="301.45" y="448" font-size="11.7" textLength="6.15" lengthAdjust="spacingAndGlyphs" fill="#111" >0</text>
<text x="295.3" y="415.6" font-size="11.7" textLength="12.3" lengthAdjust="spacingAndGlyphs" fill="#111" >90</text>
<text x="289.15" y="383.2" font-size="11.7" textLength="18.45" lengthAdjust="spacingAndGlyphs" fill="#111" >180</text>
<text x="307.43" y="526" font-size="11.7" textLength="6.15" lengthAdjust="spacingAndGlyphs" fill="#111" >4</text>
<text x="342.18" y="526" font-size="11.7" textLength="6.15" lengthAdjust="spacingAndGlyphs" fill="#111" >6</text>
<text x="376.93" y="526" font-size="11.7" textLength="6.15" lengthAdjust="spacingAndGlyphs" fill="#111" >8</text>
<text x="408.6" y="526" font-size="11.7" textLength="12.3" lengthAdjust="spacingAndGlyphs" fill="#111" >10</text>
<text x="443.35" y="526" font-size="11.7" textLength="12.3" lengthAdjust="spacingAndGlyphs" fill="#111" >12</text>
<text x="478.1" y="526" font-size="11.7" textLength="12.3" lengthAdjust="spacingAndGlyphs" fill="#111" >14</text>
<text x="512.85" y="526" font-size="11.7" textLength="12.3" lengthAdjust="spacingAndGlyphs" fill="#111" >16</text>
<text x="360" y="540.4" font-size="14.9" textLength="106.6" lengthAdjust="spacingAndGlyphs" fill="#111" >Frequency/GHz</text>
<text transform="translate(284.4 529.4) rotate(-90)" font-size="16.6" fill="#111" textLength="173.5" lengthAdjust="spacingAndGlyphs">Phase differenc Δ<tspan font-style="italic">φ</tspan><tspan font-size="9" font-style="italic" dy="1.2">xy</tspan><tspan dy="-1.2">/degree</tspan></text>
</svg>
</body></html>
